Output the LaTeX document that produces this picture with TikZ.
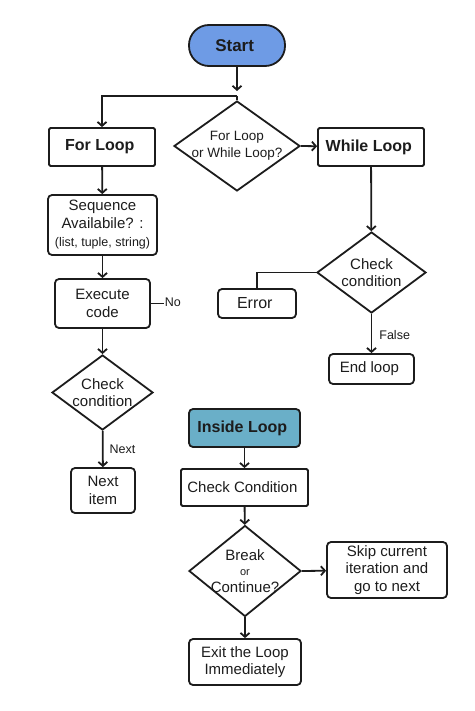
\documentclass[tikz,border=0pt]{standalone}
\usepackage{fontspec}
\setmainfont{Liberation Sans}
\usetikzlibrary{arrows.meta, shapes.geometric}
\newcommand{\flowarrow}{-{Straight Barb[length=4pt,width=9pt]}}
\newcommand{\bodyfont}{\fontsize{15}{17.5}\selectfont}
\definecolor{startblue}{HTML}{6E9BE5}
\definecolor{loopteal}{HTML}{6AAFC8}
\definecolor{inkline}{HTML}{1C1C1C}

\begin{document}
\begin{tikzpicture}[x=1pt, y=-1pt, line width=1.8pt, draw=inkline,
    every node/.style={font=\bodyfont, align=center, inner sep=0pt, text=inkline},
    box/.style={shape=rectangle, draw, rounded corners=1.5pt},
    softbox/.style={shape=rectangle, draw, rounded corners=4pt},
    decision/.style={shape=diamond, draw},
    tag/.style={font=\fontsize{12.5}{14}\selectfont}]
        \useasboundingbox (0,0) rectangle (474,711);
        \node[softbox, rounded corners=20pt, fill=startblue, minimum width=96pt, minimum height=41pt,
        font=\fontsize{17}{20}\selectfont\bfseries] (start) at (237,45.5) { Start };
        \node[decision, minimum width=126pt, minimum height=90pt,
        label={[font=\fontsize{13.5}{16.5}\selectfont, align=center]center:For Loop\\or While Loop?}] (choice) at (237,146) {};
        \node[box, minimum width=106pt, minimum height=38pt, font=\fontsize{16}{19}\selectfont\bfseries] (forloop) at (102,147) { For Loop };
        \node[box, minimum width=106pt, minimum height=38pt, font=\fontsize{16}{19}\selectfont\bfseries] (whileloop) at (371,147) { While Loop };
        \coordinate (split) at (237,96);
        \draw[\flowarrow, shorten >=5pt] (start) -- (split);
        \draw (split) -- (choice.north);
        \draw[\flowarrow] (split) -| (forloop);
        \draw[\flowarrow] (choice.east) -- (whileloop);

        \node[softbox, minimum width=109pt, minimum height=60pt] (sequence) at (102.5,225)
        { Sequence\\Availabile? :\\[1pt]{\fontsize{12.5}{14}\selectfont (list, tuple, string)} };
        \node[softbox, minimum width=95pt, minimum height=49pt] (execute) at (102.5,303.5) { Execute\\code };
        \node[tag] (no) at (174.5,302) { No };
        \node[decision, minimum width=101pt, minimum height=75pt,
        label={[font=\bodyfont, align=center]center:Check\\condition}] (forcheck) at (102.5,392.5) {};
        \node[softbox, minimum width=64pt, minimum height=45pt] (nextitem) at (103,490.5) { Next\\item };
        \draw[\flowarrow] (forloop) -- (sequence);
        \draw[\flowarrow] (sequence) -- (execute);
        \draw (execute.east) -- ++(13,0);
        \draw[\flowarrow] (execute) -- (forcheck);
        \draw[\flowarrow] (forcheck) -- node[tag, right=6pt, pos=0.5] (nextlabel) { Next } (nextitem);

        \node[decision, minimum width=109pt, minimum height=81pt,
        label={[font=\bodyfont, align=center]center:Check\\condition}] (whilecheck) at (371.5,272.5) {};
        \node[softbox, minimum width=78pt, minimum height=29pt, font=\fontsize{16}{19}\selectfont] (error) at (257,303.5) { Error };
        \node[softbox, minimum width=85pt, minimum height=30pt] (endloop) at (371.5,369) { End loop };
        \draw[\flowarrow] (whileloop) -- (whilecheck);
        \draw (whilecheck.west) -| (error.north);
        \draw[\flowarrow] (whilecheck) -- node[tag, right=7pt, pos=0.55] (falselabel) { False } (endloop);

        \node[softbox, fill=loopteal, minimum width=111pt, minimum height=38pt, font=\fontsize{16}{19}\selectfont\bfseries] (inside) at (244.5,428) { Inside Loop };
        \node[box, minimum width=127pt, minimum height=37pt] (checkcond) at (244.5,487.5) { Check Condition };
        \node[decision, minimum width=112pt, minimum height=91pt,
        label={[font=\bodyfont, align=center]center:Break\\[-2pt]{\fontsize{11}{13}\selectfont or}\\[-1pt]Continue?}] (breakq) at (245,571) {};
        \node[softbox, minimum width=120pt, minimum height=56pt] (skip) at (387,570) { Skip current\\iteration and\\go to next };
        \node[softbox, minimum width=112pt, minimum height=46pt] (exit) at (245,662) { Exit the Loop\\Immediately };
        \draw[\flowarrow] (inside) -- (checkcond);
        \draw[\flowarrow] (checkcond) -- (breakq);
        \draw[\flowarrow] (breakq.east) -- (skip);
        \draw[\flowarrow] (breakq) -- (exit);
    \end{tikzpicture}
\end{document}
